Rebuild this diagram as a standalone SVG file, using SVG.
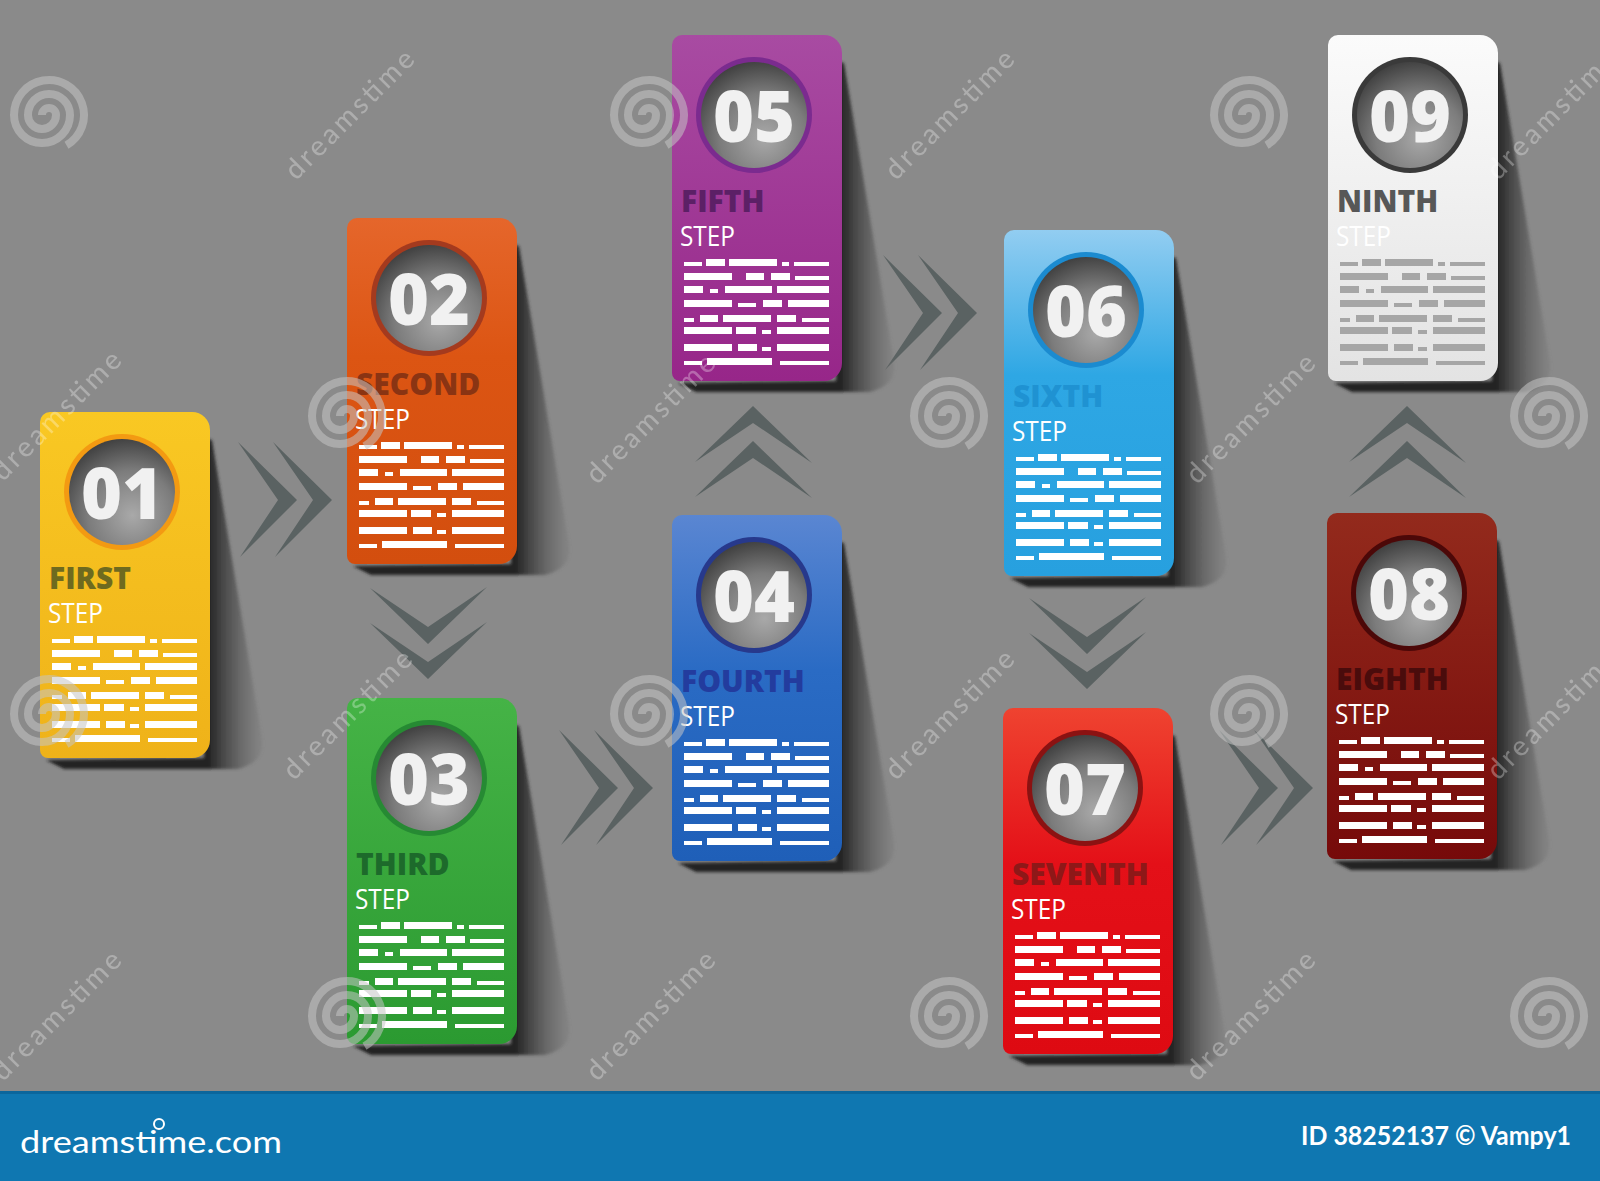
<svg xmlns="http://www.w3.org/2000/svg" xmlns:xlink="http://www.w3.org/1999/xlink" width="1600" height="1181" viewBox="0 0 1600 1181">
<defs>
<style>
.num{font-family:"Open Sans","DejaVu Sans",sans-serif;font-weight:800;font-size:70px;fill:#f1f1f1;text-anchor:middle}
.ttl{font-family:"Open Sans","DejaVu Sans",sans-serif;font-weight:800;font-size:30px}
.stp{font-family:"Open Sans","DejaVu Sans",sans-serif;font-size:28px;fill:#ffffff}
.chev{fill:#5a6262}
.wm{font-family:"Lato","DejaVu Sans",sans-serif;font-size:28px;fill:#ffffff;opacity:.3;text-anchor:middle}
.sp{fill:none;stroke:#c4c4c4;stroke-width:8;opacity:.55}
.ft{font-family:"Lato","Liberation Sans",sans-serif;fill:#ffffff}
</style>
<linearGradient id="g1" x1="0" y1="0" x2="0" y2="1"><stop offset="0" stop-color="#f9c823"/><stop offset="1" stop-color="#efb219"/></linearGradient>
<linearGradient id="g2" x1="0" y1="0" x2="0" y2="1"><stop offset="0" stop-color="#e5662b"/><stop offset="0.4" stop-color="#dc5513"/><stop offset="1" stop-color="#d34e0e"/></linearGradient>
<linearGradient id="g3" x1="0" y1="0" x2="0" y2="1"><stop offset="0" stop-color="#45b346"/><stop offset="1" stop-color="#2b9a31"/></linearGradient>
<linearGradient id="g4" x1="0" y1="0" x2="0" y2="1"><stop offset="0" stop-color="#5a86d2"/><stop offset="0.45" stop-color="#2a6bc4"/><stop offset="1" stop-color="#1f5fb8"/></linearGradient>
<linearGradient id="g5" x1="0" y1="0" x2="0" y2="1"><stop offset="0" stop-color="#a84ba2"/><stop offset="1" stop-color="#972689"/></linearGradient>
<linearGradient id="g6" x1="0" y1="0" x2="0" y2="1"><stop offset="0" stop-color="#92cdf1"/><stop offset="0.42" stop-color="#2ea7e4"/><stop offset="1" stop-color="#27a0df"/></linearGradient>
<linearGradient id="g7" x1="0" y1="0" x2="0" y2="1"><stop offset="0" stop-color="#ef4330"/><stop offset="0.45" stop-color="#e41018"/><stop offset="1" stop-color="#de0a12"/></linearGradient>
<linearGradient id="g8" x1="0" y1="0" x2="0" y2="1"><stop offset="0" stop-color="#932a1c"/><stop offset="1" stop-color="#760a0a"/></linearGradient>
<linearGradient id="g9" x1="0" y1="0" x2="0" y2="1"><stop offset="0" stop-color="#fbfbfb"/><stop offset="1" stop-color="#e3e3e3"/></linearGradient>
<radialGradient id="disc" cx="0.58" cy="0.7" r="0.75" fx="0.6" fy="0.72"><stop offset="0" stop-color="#a9a9a9"/><stop offset="0.55" stop-color="#7c7c7c"/><stop offset="1" stop-color="#3a3a3a"/></radialGradient>
<linearGradient id="shg" gradientUnits="userSpaceOnUse" x1="168" y1="0" x2="226" y2="0"><stop offset="0" stop-color="#1c1c1c" stop-opacity="0.95"/><stop offset="0.45" stop-color="#404040" stop-opacity="0.6"/><stop offset="1" stop-color="#707070" stop-opacity="0.15"/></linearGradient>
<filter id="soft" x="-20%" y="-20%" width="140%" height="140%"><feGaussianBlur stdDeviation="1.5"/></filter>
<path id="card" d="M10,0 H152 A18,18 0 0 1 170,18 V328 A18,18 0 0 1 152,346 H8 A8,8 0 0 1 0,338 V10 A10,10 0 0 1 10,0 Z"/>
<path id="shadow" d="M164,26 L172,28 L222,326 Q226,350 198,357 L24,357 L6,348 L164,346 Z"/>
<g id="txt">
<rect x="12" y="227" width="18" height="4"/><rect x="34" y="224" width="19" height="7"/><rect x="57" y="224" width="48" height="7"/><rect x="110" y="227" width="7" height="4"/><rect x="122" y="227" width="35" height="4"/>
<rect x="12" y="238" width="48" height="7"/><rect x="74" y="238" width="18" height="7"/><rect x="99" y="238" width="19" height="7"/><rect x="123" y="241" width="34" height="4"/>
<rect x="12" y="251" width="19" height="7"/><rect x="38" y="254" width="8" height="4"/><rect x="53" y="251" width="47" height="7"/><rect x="105" y="251" width="52" height="7"/>
<rect x="12" y="265" width="48" height="7"/><rect x="66" y="268" width="18" height="4"/><rect x="91" y="265" width="19" height="7"/><rect x="116" y="265" width="41" height="7"/>
<rect x="12" y="283" width="10" height="4"/><rect x="28" y="280" width="18" height="7"/><rect x="51" y="280" width="48" height="7"/><rect x="105" y="280" width="19" height="7"/><rect x="130" y="283" width="27" height="4"/>
<rect x="12" y="292" width="48" height="7"/><rect x="64" y="292" width="20" height="7"/><rect x="90" y="295" width="9" height="4"/><rect x="105" y="292" width="52" height="7"/>
<rect x="12" y="309" width="48" height="7"/><rect x="66" y="309" width="19" height="7"/><rect x="90" y="312" width="9" height="4"/><rect x="105" y="309" width="52" height="7"/>
<rect x="12" y="326" width="18" height="4"/><rect x="35" y="323" width="65" height="7"/><rect x="108" y="326" width="49" height="4"/>
</g>
<polygon id="cR" points="0,-58 59,0 2,57 40,0"/>
<polygon id="cU" points="-58,56 0,0 59,57 0,17"/>
<polygon id="cD" points="-58,-56 0,0 59,-57 0,-17"/>
<path id="spiral" d="M-7,0 A7,7 0 0 1 7,0 A14,14 0 0 1 -21,0 A21,21 0 0 1 21,0 A28,28 0 0 1 -35,0 A35,35 0 1 1 17.5,30.3"/>
</defs>

<rect x="0" y="0" width="1600" height="1181" fill="#8a8a8a"/>

<g id="connectors">
<use href="#cR" x="238" y="500" class="chev"/><use href="#cR" x="273" y="500" class="chev"/>
<use href="#cD" x="428" y="644" class="chev"/><use href="#cD" x="428" y="679" class="chev"/>
<use href="#cR" x="559" y="788" class="chev"/><use href="#cR" x="594" y="788" class="chev"/>
<use href="#cU" x="753" y="406" class="chev"/><use href="#cU" x="753" y="441" class="chev"/>
<use href="#cR" x="883" y="313" class="chev"/><use href="#cR" x="918" y="313" class="chev"/>
<use href="#cD" x="1087" y="654" class="chev"/><use href="#cD" x="1087" y="689" class="chev"/>
<use href="#cR" x="1219" y="788" class="chev"/><use href="#cR" x="1254" y="788" class="chev"/>
<use href="#cU" x="1407" y="406" class="chev"/><use href="#cU" x="1407" y="441" class="chev"/>
</g>

<g id="step01" transform="translate(40,412)">
<use href="#shadow" fill="url(#shg)" filter="url(#soft)"/>
<use href="#card" fill="url(#g1)"/>
<circle cx="82" cy="80" r="58" fill="#f39a12"/><circle cx="82" cy="80" r="53" fill="url(#disc)"/>
<text class="num" x="82" y="107">01</text>
<text class="ttl" x="9" y="177" fill="#6e6a1f">FIRST</text>
<text class="stp" x="8" y="211" textLength="55" lengthAdjust="spacingAndGlyphs">STEP</text>
<use href="#txt" fill="#ffffff"/>
</g>

<g id="step02" transform="translate(347,218)">
<use href="#shadow" fill="url(#shg)" filter="url(#soft)"/>
<use href="#card" fill="url(#g2)"/>
<circle cx="82" cy="80" r="58" fill="#a43a1e"/><circle cx="82" cy="80" r="53" fill="url(#disc)"/>
<text class="num" x="82" y="107">02</text>
<text class="ttl" x="9" y="177" fill="#8a3413">SECOND</text>
<text class="stp" x="8" y="211" textLength="55" lengthAdjust="spacingAndGlyphs">STEP</text>
<use href="#txt" fill="#ffffff"/>
</g>

<g id="step03" transform="translate(347,698)">
<use href="#shadow" fill="url(#shg)" filter="url(#soft)"/>
<use href="#card" fill="url(#g3)"/>
<circle cx="82" cy="80" r="58" fill="#268a33"/><circle cx="82" cy="80" r="53" fill="url(#disc)"/>
<text class="num" x="82" y="107">03</text>
<text class="ttl" x="9" y="177" fill="#1d6a2b">THIRD</text>
<text class="stp" x="8" y="211" textLength="55" lengthAdjust="spacingAndGlyphs">STEP</text>
<use href="#txt" fill="#ffffff"/>
</g>

<g id="step04" transform="translate(672,515)">
<use href="#shadow" fill="url(#shg)" filter="url(#soft)"/>
<use href="#card" fill="url(#g4)"/>
<circle cx="82" cy="80" r="58" fill="#27398c"/><circle cx="82" cy="80" r="53" fill="url(#disc)"/>
<text class="num" x="82" y="107">04</text>
<text class="ttl" x="9" y="177" fill="#233c9e">FOURTH</text>
<text class="stp" x="8" y="211" textLength="55" lengthAdjust="spacingAndGlyphs">STEP</text>
<use href="#txt" fill="#ffffff"/>
</g>

<g id="step05" transform="translate(672,35)">
<use href="#shadow" fill="url(#shg)" filter="url(#soft)"/>
<use href="#card" fill="url(#g5)"/>
<circle cx="82" cy="80" r="58" fill="#7b2b8f"/><circle cx="82" cy="80" r="53" fill="url(#disc)"/>
<text class="num" x="82" y="107">05</text>
<text class="ttl" x="9" y="177" fill="#5c2066">FIFTH</text>
<text class="stp" x="8" y="211" textLength="55" lengthAdjust="spacingAndGlyphs">STEP</text>
<use href="#txt" fill="#ffffff"/>
</g>

<g id="step06" transform="translate(1004,230)">
<use href="#shadow" fill="url(#shg)" filter="url(#soft)"/>
<use href="#card" fill="url(#g6)"/>
<circle cx="82" cy="80" r="58" fill="#1b8bd0"/><circle cx="82" cy="80" r="53" fill="url(#disc)"/>
<text class="num" x="82" y="107">06</text>
<text class="ttl" x="9" y="177" fill="#1f92d2">SIXTH</text>
<text class="stp" x="8" y="211" textLength="55" lengthAdjust="spacingAndGlyphs">STEP</text>
<use href="#txt" fill="#ffffff"/>
</g>

<g id="step07" transform="translate(1003,708)">
<use href="#shadow" fill="url(#shg)" filter="url(#soft)"/>
<use href="#card" fill="url(#g7)"/>
<circle cx="82" cy="80" r="58" fill="#8b1212"/><circle cx="82" cy="80" r="53" fill="url(#disc)"/>
<text class="num" x="82" y="107">07</text>
<text class="ttl" x="9" y="177" fill="#8e1818">SEVENTH</text>
<text class="stp" x="8" y="211" textLength="55" lengthAdjust="spacingAndGlyphs" fill="#fbe4dc">STEP</text>
<use href="#txt" fill="#ffffff"/>
</g>

<g id="step08" transform="translate(1327,513)">
<use href="#shadow" fill="url(#shg)" filter="url(#soft)"/>
<use href="#card" fill="url(#g8)"/>
<circle cx="82" cy="80" r="58" fill="#4c0808"/><circle cx="82" cy="80" r="53" fill="url(#disc)"/>
<text class="num" x="82" y="107">08</text>
<text class="ttl" x="9" y="177" fill="#4a0c0c">EIGHTH</text>
<text class="stp" x="8" y="211" textLength="55" lengthAdjust="spacingAndGlyphs" fill="#f8dcd4">STEP</text>
<use href="#txt" fill="#ffffff"/>
</g>

<g id="step09" transform="translate(1328,35)">
<use href="#shadow" fill="url(#shg)" filter="url(#soft)"/>
<use href="#card" fill="url(#g9)"/>
<circle cx="82" cy="80" r="58" fill="#3a3a3a"/><circle cx="82" cy="80" r="53" fill="url(#disc)"/>
<text class="num" x="82" y="107">09</text>
<text class="ttl" x="9" y="177" fill="#575757">NINTH</text>
<text class="stp" x="8" y="211" textLength="55" lengthAdjust="spacingAndGlyphs" fill="#ababab">STEP</text>
<use href="#txt" fill="#a6a6a6"/>
</g>

<g id="watermarks">
<use href="#spiral" x="49" y="115" class="sp"/><use href="#spiral" x="649" y="115" class="sp"/><use href="#spiral" x="1249" y="115" class="sp"/>
<use href="#spiral" x="347" y="416" class="sp"/><use href="#spiral" x="949" y="416" class="sp"/><use href="#spiral" x="1549" y="416" class="sp"/>
<use href="#spiral" x="49" y="714" class="sp"/><use href="#spiral" x="649" y="714" class="sp"/><use href="#spiral" x="1249" y="714" class="sp"/>
<use href="#spiral" x="347" y="1016" class="sp"/><use href="#spiral" x="949" y="1016" class="sp"/><use href="#spiral" x="1549" y="1016" class="sp"/>
<text class="wm" x="349" y="124" transform="rotate(-45 349 114)" textLength="170">dreamstime</text>
<text class="wm" x="949" y="124" transform="rotate(-45 949 114)" textLength="170">dreamstime</text>
<text class="wm" x="1551" y="124" transform="rotate(-45 1551 114)" textLength="170">dreamstime</text>
<text class="wm" x="56" y="425" transform="rotate(-45 56 415)" textLength="170">dreamstime</text>
<text class="wm" x="650" y="428" transform="rotate(-45 650 418)" textLength="170">dreamstime</text>
<text class="wm" x="1250" y="428" transform="rotate(-45 1250 418)" textLength="170">dreamstime</text>
<text class="wm" x="347" y="724" transform="rotate(-45 347 714)" textLength="170">dreamstime</text>
<text class="wm" x="949" y="724" transform="rotate(-45 949 714)" textLength="170">dreamstime</text>
<text class="wm" x="1551" y="724" transform="rotate(-45 1551 714)" textLength="170">dreamstime</text>
<text class="wm" x="56" y="1025" transform="rotate(-45 56 1015)" textLength="170">dreamstime</text>
<text class="wm" x="650" y="1025" transform="rotate(-45 650 1015)" textLength="170">dreamstime</text>
<text class="wm" x="1250" y="1025" transform="rotate(-45 1250 1015)" textLength="170">dreamstime</text>
</g>

<g id="footer">
<rect x="0" y="1091" width="1600" height="90" fill="#0f77b1"/>
<rect x="0" y="1091" width="1600" height="3" fill="#0b669c"/>
<circle cx="159" cy="1124" r="5" fill="none" stroke="#ffffff" stroke-width="2"/>
<text class="ft" x="20" y="1153" font-size="30" textLength="262" lengthAdjust="spacingAndGlyphs">dreamstime.com</text>
<text class="ft" x="1301" y="1145" font-size="26" font-weight="bold" textLength="270" lengthAdjust="spacingAndGlyphs">ID 38252137 © Vampy1</text>
</g>
</svg>
